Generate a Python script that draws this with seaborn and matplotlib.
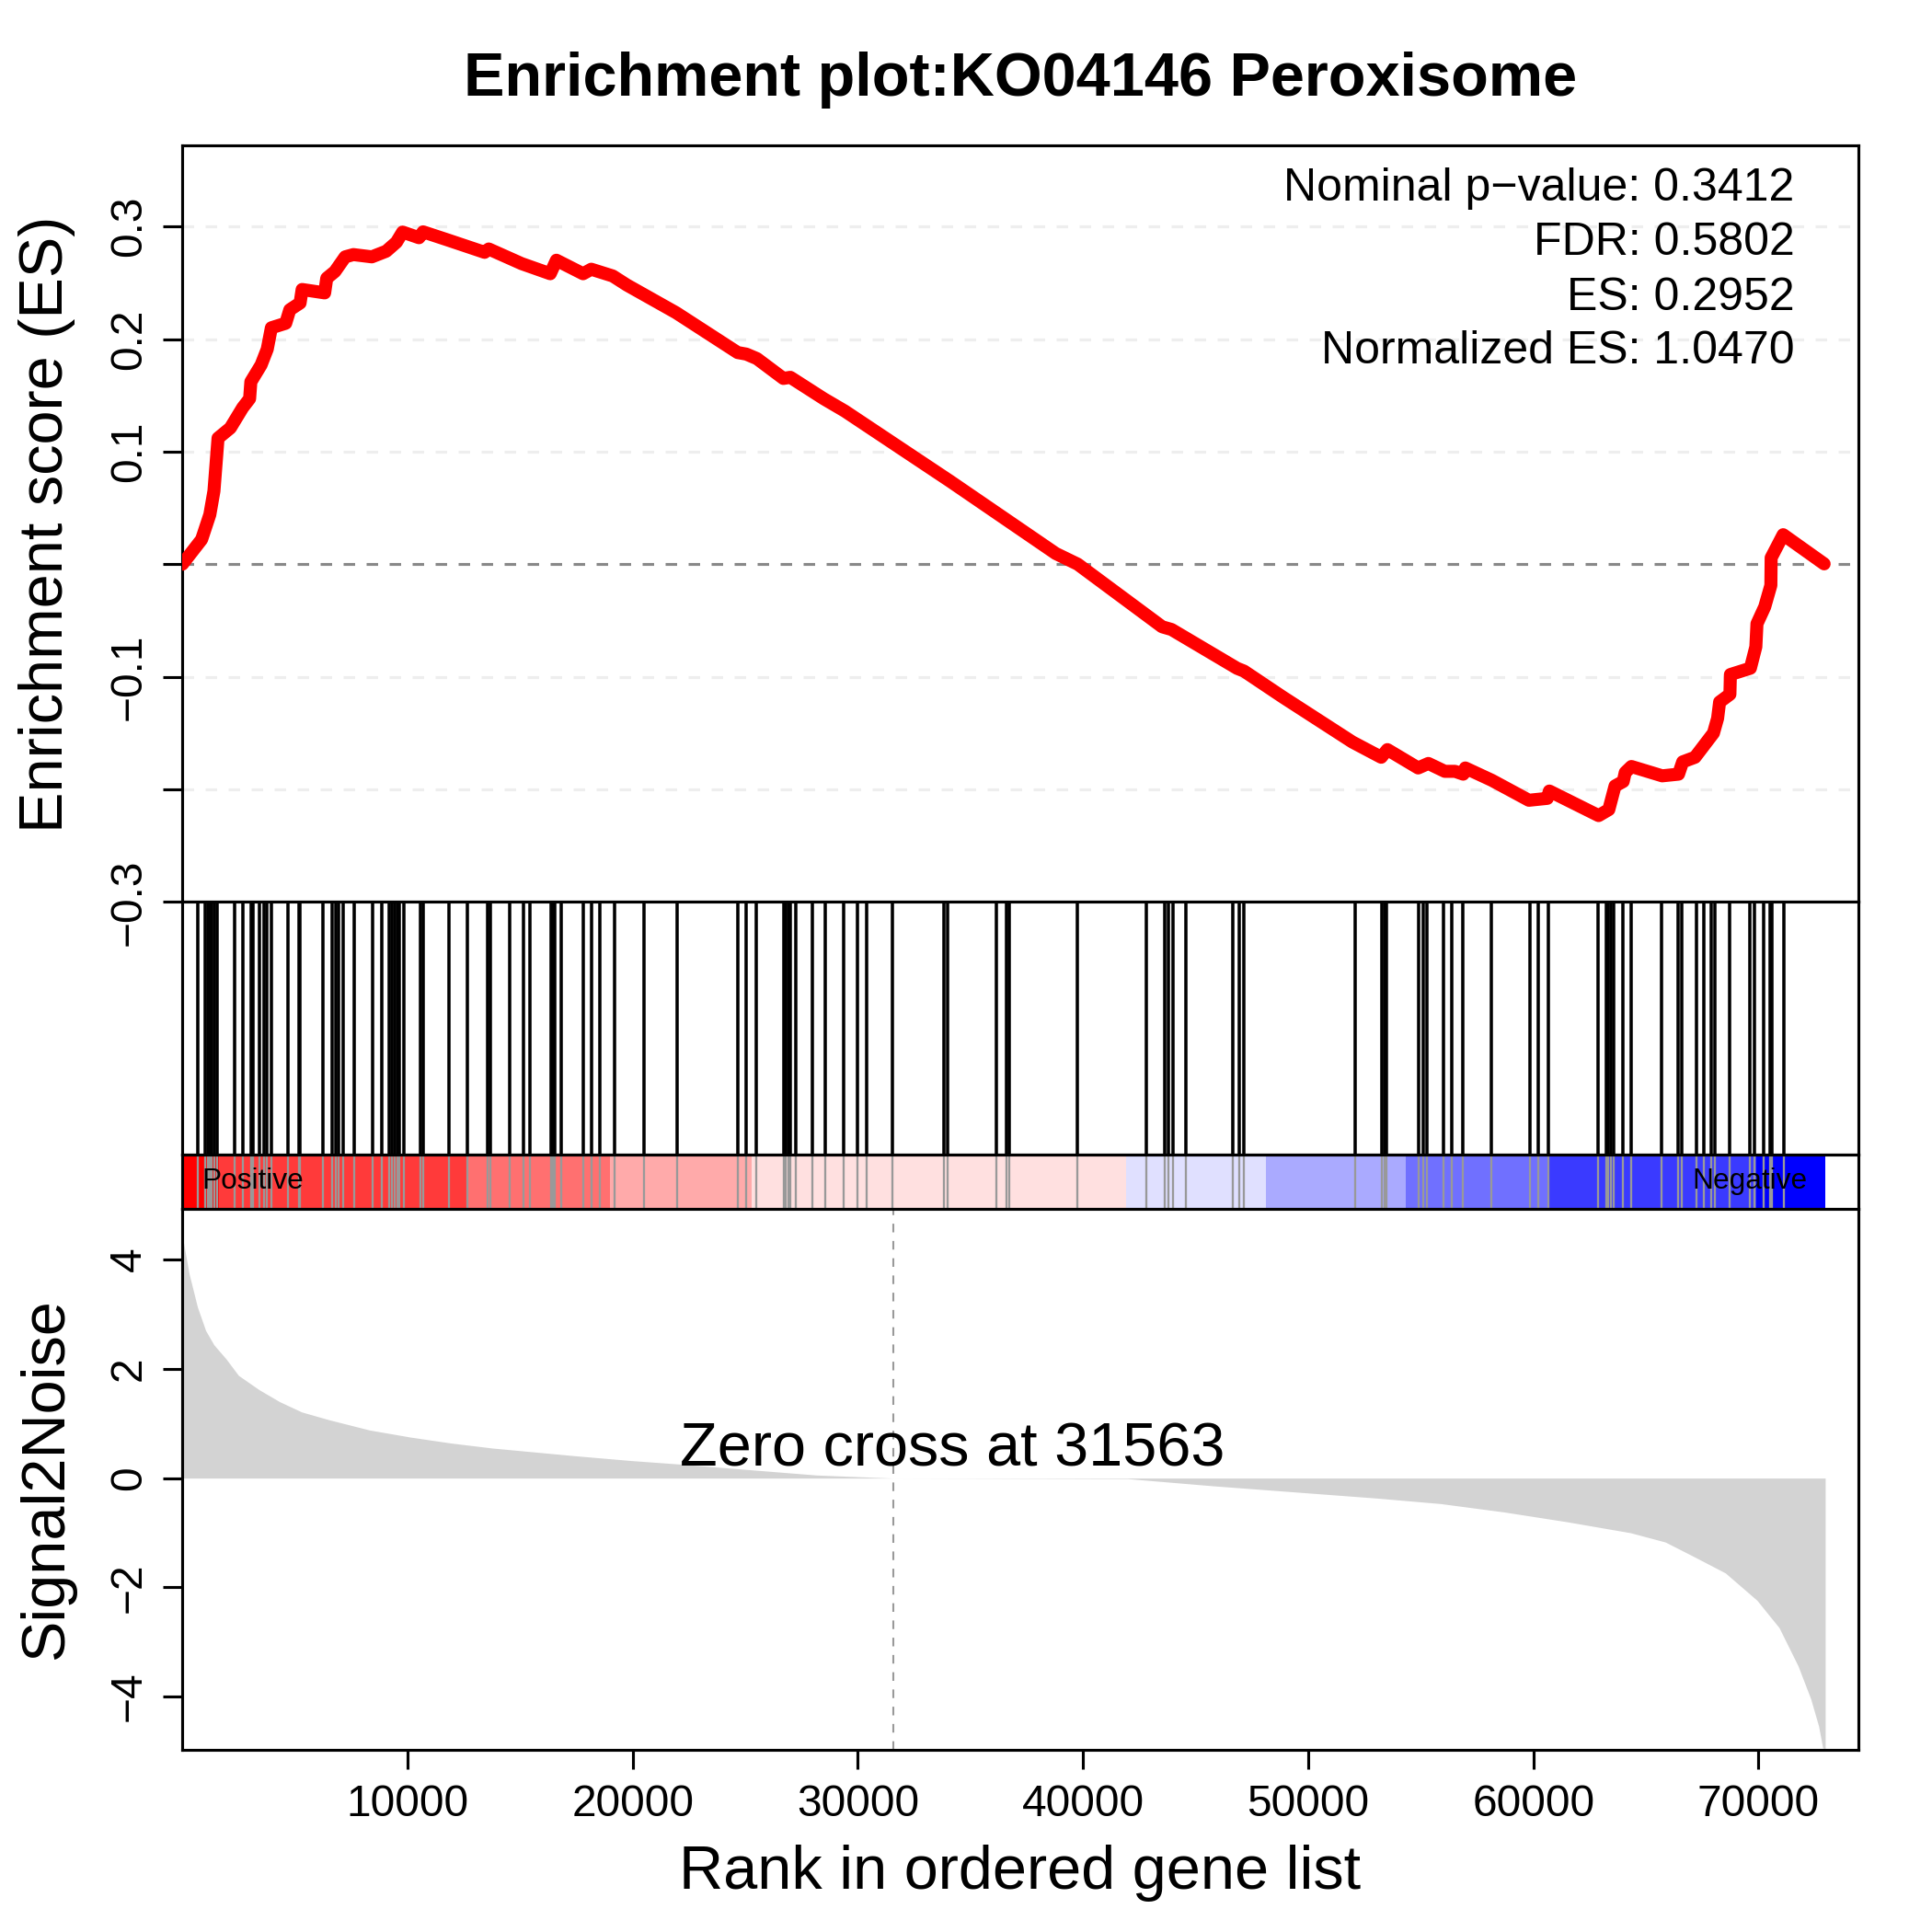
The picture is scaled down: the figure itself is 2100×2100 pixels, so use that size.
import numpy as np
import pandas as pd
import matplotlib
matplotlib.use("Agg")
import matplotlib.pyplot as plt
import seaborn as sns

# ---------------- data ----------------
title = "Enrichment plot:KO04146 Peroxisome"
n_genes = 72960
x_max = 74420
zero_cross = 31563

stat_labels = ["Nominal p\u2212value: 0.3412", "FDR: 0.5802",
               "ES: 0.2952", "Normalized ES: 1.0470"]

es_rank = [0, 856, 1220, 1403, 1585, 2131, 2678, 2987, 3042, 3497, 3770, 3953,
           4590, 4772, 5228, 5319, 6320, 6412, 6776, 7231, 7596, 8415, 9053,
           9508, 9781, 10510, 10692, 11785, 13424, 13607, 15064, 16339, 16612,
           17796, 18160, 19115, 19740, 21926, 24660, 25047, 25517, 26692, 27002,
           28483, 29421, 34105, 38788, 39764, 43513, 43930, 46842, 47153, 48870,
           51966, 53243, 53517, 54883, 55336, 56067, 56521, 56884, 56977, 58160,
           59800, 60620, 60710, 62897, 63350, 63627, 63990, 64080, 64354, 65721,
           66447, 66631, 67178, 67998, 68181, 68271, 68728, 68750, 69638, 69880,
           69930, 70274, 70547, 70560, 71093, 72913]
es_value = [0.0, 0.022, 0.044, 0.065, 0.112, 0.121, 0.139, 0.147, 0.162, 0.177,
            0.191, 0.210, 0.214, 0.226, 0.232, 0.244, 0.241, 0.254, 0.260, 0.273,
            0.275, 0.273, 0.278, 0.286, 0.295, 0.290, 0.2952, 0.288, 0.277, 0.280,
            0.267, 0.258, 0.270, 0.258, 0.262, 0.256, 0.248, 0.2234, 0.188, 0.1866,
            0.1826, 0.165, 0.166, 0.147, 0.136, 0.0736, 0.0095, 0.0, -0.0556,
            -0.058, -0.0925, -0.095, -0.118, -0.158, -0.1715, -0.1647, -0.181,
            -0.177, -0.184, -0.184, -0.1865, -0.181, -0.192, -0.2097, -0.208,
            -0.2015, -0.2233, -0.218, -0.197, -0.193, -0.185, -0.1797, -0.188,
            -0.1865, -0.1756, -0.1715, -0.150, -0.137, -0.1224, -0.1156, -0.098,
            -0.0924, -0.0734, -0.0529, -0.0379, -0.0188, 0.0057, 0.0262, 0.0003]

hit_ranks = [674, 1015, 1123, 1219, 1314, 1423, 1531, 2307, 2687, 3055, 3150,
             3435, 3626, 3762, 3939, 4687, 5163, 5231, 6251, 6659, 6795, 6931,
             7135, 7652, 8468, 8876, 9175, 9311, 9447, 9542, 9624, 9828, 10590,
             10699, 11855, 12671, 13555, 13691, 14521, 15160, 15432, 16384, 16452,
             16547, 16833, 17812, 18193, 18560, 19211, 20490, 21959, 24679, 25019,
             25495, 26719, 26814, 26909, 27018, 27235, 27970, 28555, 29371, 29983,
             30391, 31547, 33818, 33995, 36143, 36619, 36715, 39747, 42807, 43610,
             43787, 43991, 44562, 46643, 46942, 47146, 52083, 53266, 53375, 53483,
             54912, 55102, 55279, 56027, 56366, 56883, 58135, 59835, 60202, 60650,
             62867, 63235, 63330, 63439, 63547, 63983, 64350, 65683, 66431, 66594,
             67247, 67586, 67899, 68063, 68715, 69626, 69803, 70238, 70511, 70606,
             71123]

metric_rank = [0, 300, 670, 1036, 1400, 1945, 2490, 3400, 4310, 5300, 6490, 8310,
               10130, 11950, 13760, 15580, 17400, 19950, 22300, 25000, 28160,
               31563, 41980, 45730, 53076, 55885, 58694, 61503, 64312, 65857,
               67121, 68526, 69930, 70913, 71756, 72318, 72669, 72851, 72960]
metric_value = [4.43, 3.74, 3.13, 2.70, 2.44, 2.18, 1.88, 1.62, 1.40, 1.21, 1.07,
                0.88, 0.75, 0.64, 0.55, 0.48, 0.41, 0.32, 0.25, 0.16, 0.056, 0.0,
                -0.01, -0.14, -0.367, -0.467, -0.62, -0.80, -1.00, -1.17, -1.435,
                -1.736, -2.236, -2.737, -3.438, -4.04, -4.54, -4.94, -4.95]

band_edges = [0, 1630, 12640, 18990, 25290, 41920, 48140, 54320, 60650, 69900, 72960]
band_colors = ["#FF0000", "#FF3A3A", "#FF7070", "#FFAAAA", "#FFE0E0",
               "#E0E0FF", "#AAAAFF", "#7070FF", "#3A3AFF", "#0000FF"]

es_ticks = [-0.3, -0.2, -0.1, 0.0, 0.1, 0.2, 0.3]
es_tick_labels = ["\u22120.3", "", "\u22120.1", "", "0.1", "0.2", "0.3"]
es_grid = [-0.2, -0.1, 0.1, 0.2, 0.3]
s2n_ticks = [-4, -2, 0, 2, 4]
s2n_tick_labels = ["\u22124", "\u22122", "0", "2", "4"]
x_ticks = [10000, 20000, 30000, 40000, 50000, 60000, 70000]

# ---------------- style ----------------
sns.set_style("white")
plt.rcParams['font.family'] = ['Liberation Sans', 'DejaVu Sans']
plt.rcParams['axes.unicode_minus'] = True
for k in ("text.color", "axes.labelcolor", "xtick.color", "ytick.color",
          "xtick.labelcolor", "ytick.labelcolor", "axes.edgecolor"):
    plt.rcParams[k] = "black"

fig = plt.figure(figsize=(7, 7), dpi=300)
W = 1568.0
L = 148 / W
PW = (1508 - 148) / W

def add_ax(top, bottom):
    return fig.add_axes([L, 1 - bottom / W, PW, (bottom - top) / W])

ax_es = add_ax(118, 732)
ax_hit = add_ax(732, 937)
ax_bar = add_ax(937, 981)
ax_s2n = add_ax(981, 1420)

spine_lw = 0.75
for ax in (ax_es, ax_hit, ax_bar, ax_s2n):
    ax.set_xlim(0, x_max)
    for s in ax.spines.values():
        s.set_visible(True)
        s.set_color("black")
        s.set_linewidth(spine_lw)
    ax.set_facecolor("white")

# ---- ES panel ----
for g in es_grid:
    ax_es.axhline(g, color="#EEEEEE", lw=0.75, dashes=(4, 4), zorder=1)
ax_es.axhline(0, color="#888888", lw=0.75, dashes=(4, 4), zorder=1)
es_df = pd.DataFrame({"rank": es_rank, "es": es_value})
sns.lineplot(data=es_df, x="rank", y="es", ax=ax_es, color="#FF0000",
             linewidth=3.4, sort=False, estimator=None, zorder=3)
for ln in ax_es.lines[-1:]:
    ln.set_solid_capstyle("round")
    ln.set_solid_joinstyle("round")
ax_es.set_ylim(-0.3, 0.372)
ax_es.set_yticks(es_ticks)
ax_es.set_yticklabels(es_tick_labels)
ax_es.set_xticks([])
ax_es.tick_params(axis="y", direction="out", length=5, width=spine_lw,
                  labelsize=11.5, labelrotation=90, pad=3.5, left=True,
                  colors="black")
for lbl in ax_es.get_yticklabels():
    lbl.set_va("center")
ax_es.set_xlabel("")
ax_es.set_ylabel("")
baselines = [0.9267, 0.8557, 0.7827, 0.7117]
for txt, yb in zip(stat_labels, baselines):
    ax_es.text(0.962, yb, txt, transform=ax_es.transAxes, ha="right",
               va="baseline", fontsize=12, color="black")

# ---- hits panel ----
ax_hit.vlines(hit_ranks, 0, 1, color="black", lw=0.85)
ax_hit.set_ylim(0, 1)
ax_hit.set_xticks([])
ax_hit.set_yticks([])

# ---- colour bar ----
for i, c in enumerate(band_colors):
    ax_bar.axvspan(band_edges[i], band_edges[i + 1], color=c, lw=0, zorder=1)
ax_bar.vlines(hit_ranks, 0, 1, color="#999999", lw=0.55, zorder=2)
ax_bar.set_ylim(0, 1)
ax_bar.set_xticks([])
ax_bar.set_yticks([])
ax_bar.text(850, 0.5, "Positive", ha="left", va="center", fontsize=7.6,
            color="black", zorder=3)
ax_bar.text(72170, 0.5, "Negative", ha="right", va="center", fontsize=7.6,
            color="black", zorder=3)

# ---- signal2noise panel ----
ax_s2n.fill_between(metric_rank, metric_value, 0, color="#D3D3D3", lw=0, zorder=1)
ax_s2n.axvline(zero_cross, color="#999999", lw=0.5, dashes=(4.5, 4.5), zorder=2)
ax_s2n.set_ylim(-4.97, 4.93)
ax_s2n.set_yticks(s2n_ticks)
ax_s2n.set_yticklabels(s2n_tick_labels)
ax_s2n.set_xticks(x_ticks)
ax_s2n.set_xticklabels([str(v) for v in x_ticks])
ax_s2n.tick_params(axis="y", direction="out", length=5, width=spine_lw,
                   labelsize=11.5, labelrotation=90, pad=3.5, left=True,
                   colors="black")
ax_s2n.tick_params(axis="x", direction="out", length=5, width=spine_lw,
                   labelsize=11.5, pad=4, bottom=True, colors="black")
for lbl in ax_s2n.get_yticklabels():
    lbl.set_va("center")
ax_s2n.text(34200, 0.22, "Zero cross at %d" % zero_cross, ha="center",
            va="baseline", fontsize=16, color="black", zorder=3)
ax_s2n.set_xlabel("")
ax_s2n.set_ylabel("")

# ---- titles and labels ----
cx = (148 + 1508) / 2 / W
fig.text(cx, 1 - 78 / W, title, ha="center", va="baseline", fontsize=16,
         fontweight="bold", color="black")
fig.text(cx, 1 - 1533 / W, "Rank in ordered gene list", ha="center",
         va="baseline", fontsize=16, color="black")
fig.text(38 / W, 1 - 425.5 / W, "Enrichment score (ES)", rotation=90,
         ha="center", va="center", fontsize=16, color="black")
fig.text(38 / W, 1 - 1200 / W, "Signal2Noise", rotation=90,
         ha="center", va="center", fontsize=16, color="black")

fig.savefig("out.png", dpi=300, facecolor="white")
